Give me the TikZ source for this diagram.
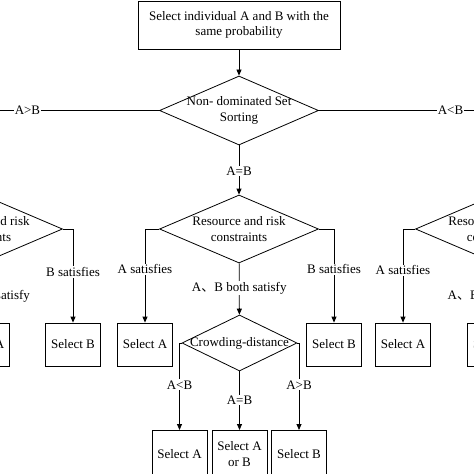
\documentclass[tikz,border=0pt]{standalone}
\usepackage{fontspec}
\setmainfont{Liberation Serif}
\newfontfamily\cjk{Noto Sans CJK SC}
\usetikzlibrary{arrows.meta,positioning,shapes.geometric,calc}

\newcommand{\AB}{A{\cjk 、}B}

\begin{document}
\begin{tikzpicture}[
    x=1pt, y=-1pt, line width=0.8pt,
    txt/.style={font=\fontsize{13}{15.5}\selectfont},
    box/.style={draw,txt,align=center,inner sep=0pt,
                minimum width=55pt,minimum height=43pt},
    test/.style={draw,diamond,inner sep=0pt,
                 minimum width=159pt,minimum height=68pt},
    cond/.style={txt,fill=white,inner sep=1pt},
    flow/.style={-{Triangle[length=6pt,width=5pt]}}
  ]
    \useasboundingbox (0,0) rectangle (474,474);
    \clip (0,0) rectangle (474,474);

    % selection and first test
    \node[box,minimum width=202pt,minimum height=48pt] (pick) at (239,25)
          {Select individual A and B with the\\same probability};
    \node[test,minimum height=69pt] (nds) at (239,110.5)
          [label={[txt,align=center]center:Non- dominated Set\\Sorting}] {};
    \coordinate (exitL) at (-20,110.5);
    \coordinate (exitR) at (498,110.5);
    \draw[flow] (pick) -- (nds);
    \draw (nds.west) -- node[cond,pos=0.735]{A>B} (exitL);
    \draw (nds.east) -- node[cond,pos=0.735]{A<B} (exitR);

    % constraint tests
    \node[test] (rcL) at (-17,229)
          [label={[txt,align=center]center:Resource and risk\\constraints}] {};
    \node[test] (rc) at (239,229)
          [label={[txt,align=center]center:Resource and risk\\constraints}] {};
    \node[test] (rcR) at (495,229)
          [label={[txt,align=center]center:Resource and risk\\constraints}] {};
    \draw[flow] (nds) -- node[cond,pos=0.52]{A=B} (rc);

    % results of constraint tests
    \node[box] (mL) at (-18,344.5) {Select A};
    \node[box] (bL) at (73,344.5) {Select B};
    \node[box] (aC) at (145,344.5) {Select A};
    \node[box] (bC) at (334,344.5) {Select B};
    \node[box] (aR) at (403,344.5) {Select A};
    \node[box] (mR) at (495,344.5) {Select B};
    \draw[flow] (rcL.south) -- node[cond,pos=0.55]{\AB{} both satisfy} (mL);
    \draw[flow] (rcL.east) -| node[cond,pos=0.73]{B satisfies} (bL);
    \draw[flow] (rc.west) -| node[cond,pos=0.715]{A satisfies} (aC);
    \draw[flow] (rc.east) -| node[cond,pos=0.715]{B satisfies} (bC);
    \draw[flow] (rcR.west) -| node[cond,pos=0.72]{A satisfies} (aR);
    \draw[flow] (rcR.south) -- node[cond,pos=0.55]{\AB{} both satisfy} (mR);

    % crowding distance
    \node[test,minimum width=115pt,minimum height=56pt] (cd) at (239.5,343)
          [label={[txt]center:Crowding-distance}] {};
    \draw[flow] (rc) -- node[cond,pos=0.48]{\AB{} both satisfy} (cd);
    \node[box,anchor=north,minimum height=47pt] (selA) at (179.5,430) {Select A};
    \node[box,anchor=north,minimum height=47pt] (selAB) at (239.5,430) {Select A\\or B};
    \node[box,anchor=north,minimum height=47pt] (selB) at (299,430) {Select B};
    \draw[flow] (cd.west) -| node[cond,pos=0.74]{A<B} (selA);
    \draw[flow] (cd) -- node[cond,pos=0.49]{A=B} (selAB);
    \draw[flow] (cd.east) -| node[cond,pos=0.74]{A>B} (selB);
  \end{tikzpicture}
\end{document}
